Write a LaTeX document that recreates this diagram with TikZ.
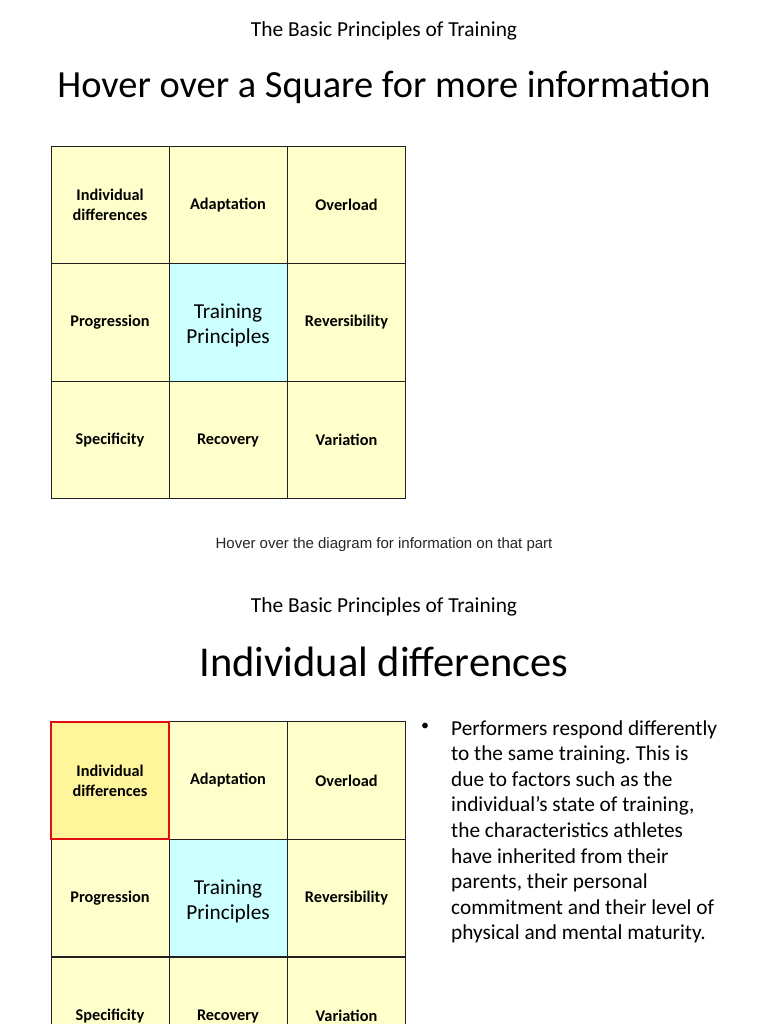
\documentclass[tikz,border=0pt]{standalone}
\usepackage{fontspec}
\setmainfont{Carlito}
\newfontfamily\arialf{Liberation Sans}
\definecolor{cellyellow}{HTML}{FFFFCC}
\definecolor{cellcyan}{HTML}{CCFFFF}
\definecolor{hiyellow}{HTML}{FFF59A}
\definecolor{hired}{HTML}{E01010}
\definecolor{gridline}{HTML}{202020}
\tikzset{
  cell/.style={draw=gridline, line width=0.9pt, fill=cellyellow, minimum width=118pt, minimum height=117.5pt, inner sep=0pt, align=center, font=\fontsize{16.3}{20}\selectfont\bfseries},
  centercell/.style={cell, fill=cellcyan},
  ptext/.style={font=\fontsize{21.3}{25}\selectfont, align=center, inner sep=0pt, yshift=-3pt},
  hicell/.style={cell, fill=hiyellow, draw=hired, line width=2.2pt},
  smalltitle/.style={font=\fontsize{21.4}{25}\selectfont, inner sep=0pt},
  bigtitle/.style={font=\fontsize{38.4}{44}\selectfont, inner sep=0pt},
  bigtitleb/.style={font=\fontsize{42.5}{48}\selectfont, inner sep=0pt},
  note/.style={font=\arialf\fontsize{15}{18}\selectfont, text=black!85, inner sep=0pt},
  body/.style={font=\fontsize{21.3}{25.6}\selectfont\frenchspacing, align=left, inner sep=0pt, anchor=north west}
}
\begin{document}
\begin{tikzpicture}[x=1pt,y=-1pt]
\useasboundingbox (0,0) rectangle (768,1024);
\clip (0,0) rectangle (768,1024);
\fill[white] (0,0) rectangle (768,1024);

% ---------- first slide ----------
\node[smalltitle] (t1) at (384,31) {The Basic Principles of Training};
\node[bigtitle] (h1) at (384,87) {Hover over a Square for more information};

\node[cell] (a11) at (110,205) {Individual\\differences};
\node[cell] (a12) at (228,205) {Adaptation};
\node[cell] (a13) at (346.5,205) {Overload};
\node[cell] (a21) at (110,322.5) {Progression};
\node[centercell, label={[ptext]center:{Training\\Principles}}] (a22) at (228,322.5) {};
\node[cell] (a23) at (346.5,322.5) {Reversibility};
\node[cell] (a31) at (110,440) {Specificity};
\node[cell] (a32) at (228,440) {Recovery};
\node[cell] (a33) at (346.5,440) {Variation};

\node[note] (n1) at (384,545) {Hover over the diagram for information on that part};

% ---------- second slide ----------
\node[smalltitle] (t2) at (384,607) {The Basic Principles of Training};
\node[bigtitleb] (h2) at (384,662) {Individual differences};

\node[cell] (b12) at (228,780.5) {Adaptation};
\node[cell] (b13) at (346.5,780.5) {Overload};
\node[cell] (b21) at (110,898) {Progression};
\node[centercell, label={[ptext]center:{Training\\Principles}}] (b22) at (228,898) {};
\node[cell] (b23) at (346.5,898) {Reversibility};
\node[cell] (b31) at (110,1016) {Specificity};
\node[cell] (b32) at (228,1016) {Recovery};
\node[cell] (b33) at (346.5,1016) {Variation};
\node[hicell] (b11) at (110,780.5) {Individual\\differences};

\node[font=\fontsize{16}{20}\selectfont, inner sep=0pt] (bul) at (425,727) {\textbullet};
\node[body] (desc) at (451,720) {Performers respond differently\\to the same training. This is\\due to factors such as the\\individual’s state of training,\\the characteristics athletes\\have inherited from their\\parents, their personal\\commitment and their level of\\physical and mental maturity.};
\end{tikzpicture}
\end{document}
